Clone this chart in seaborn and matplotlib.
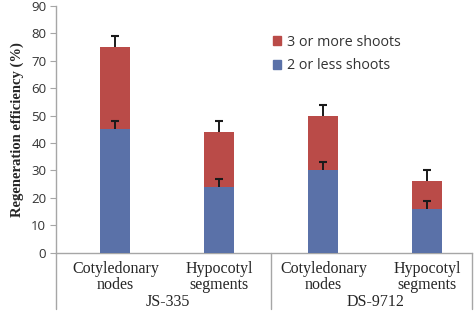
import matplotlib
matplotlib.use("Agg")
import matplotlib.pyplot as plt
import matplotlib.patches as mpatches
import matplotlib.transforms as mtransforms
from matplotlib.lines import Line2D
import seaborn as sns
import pandas as pd

# Regeneration efficiency by explant type and genotype
varieties = ["JS-335", "JS-335", "DS-9712", "DS-9712"]
explants = ["Cotyledonary\nnodes", "Hypocotyl\nsegments", "Cotyledonary\nnodes", "Hypocotyl\nsegments"]
two_or_less = [45, 24, 30, 16]
three_or_more = [30, 20, 20, 10]
err_two_or_less = [3, 3, 3, 3]
err_three_or_more = [4, 4, 4, 4]
y_ticks = [0, 10, 20, 30, 40, 50, 60, 70, 80, 90]

RED = "#BA4B48"
BLUE = "#5A71A8"
GRID_GRAY = "#A6A6A6"

keys = [f"{v}|{e}" for v, e in zip(varieties, explants)]
totals = [a + b for a, b in zip(two_or_less, three_or_more)]
df = pd.DataFrame({"key": keys, "low": two_or_less, "total": totals})

sns.set_style("white")
plt.rcParams["font.family"] = ["DejaVu Sans"]

fig = plt.figure(figsize=(4.74, 3.26), dpi=100)
ax = fig.add_axes([56 / 474, 73.3 / 326, (472 - 56) / 474, 246.7 / 326])

# stacked bars: full height in red, lower segment in blue on top
sns.barplot(data=df, x="key", y="total", color=RED, width=0.29,
            saturation=1, linewidth=0, ax=ax, zorder=2)
sns.barplot(data=df, x="key", y="low", color=BLUE, width=0.29,
            saturation=1, linewidth=0, ax=ax, zorder=3)

# upward-only error bars with a cap at the top end
xs = list(range(len(keys)))
for base, err in [(totals, err_three_or_more), (two_or_less, err_two_or_less)]:
    tops = [b + e for b, e in zip(base, err)]
    ax.vlines(xs, base, tops, color="#1a1a1a", lw=1.4, zorder=4)
    ax.plot(xs, tops, ls="none", marker="_", ms=6.2, mew=1.5,
            color="#1a1a1a", zorder=4)

ax.set_xlim(-0.571, 3.43)
ax.set_ylim(0, 90)
ax.set_yticks(y_ticks)
ax.set_yticklabels([str(t) for t in y_ticks], fontsize=9.5, family="Open Sans",
                   color="#333333")
ax.tick_params(axis="y", length=4, width=0.8, color=GRID_GRAY, pad=3, left=True)
ax.tick_params(axis="x", length=0, pad=6)

ax.set_xticks(xs)
ax.set_xticklabels(explants, fontsize=11.5, family="Liberation Serif",
                   linespacing=1.0)
ax.set_xlabel("")
ax.set_ylabel("Regeneration efficiency (%)", fontsize=10.5,
              family="Liberation Serif", fontweight="bold", labelpad=5)

for side in ["top", "right"]:
    ax.spines[side].set_visible(False)
for side in ["left", "bottom"]:
    ax.spines[side].set_color(GRID_GRAY)
    ax.spines[side].set_linewidth(1.0)

# group dividers below the category axis
trans = mtransforms.blended_transform_factory(ax.transData, ax.transAxes)
drop = -(309 - 252.7) / 246.7
for xv in [-0.571, 1.5, 3.43]:
    ax.add_line(Line2D([xv, xv], [0, drop], transform=trans, color=GRID_GRAY,
                       lw=1.0, clip_on=False))

for center, name in [(0.5, "JS-335"), (2.5, "DS-9712")]:
    ax.text(center, -(302 - 252.7) / 246.7, name, transform=trans,
            ha="center", va="center", fontsize=11.5, family="Liberation Serif")

handles = [mpatches.Patch(color=RED, label="3 or more shoots"),
           mpatches.Patch(color=BLUE, label="2 or less shoots")]
ax.legend(handles=handles, loc="upper left", bbox_to_anchor=(0.49, 0.935),
          frameon=False, prop={"family": "Open Sans", "size": 10.3},
          handlelength=0.6, handleheight=0.6, handletextpad=0.4,
          labelspacing=0.6, labelcolor="#333333")

fig.savefig("out.png", dpi=100)
